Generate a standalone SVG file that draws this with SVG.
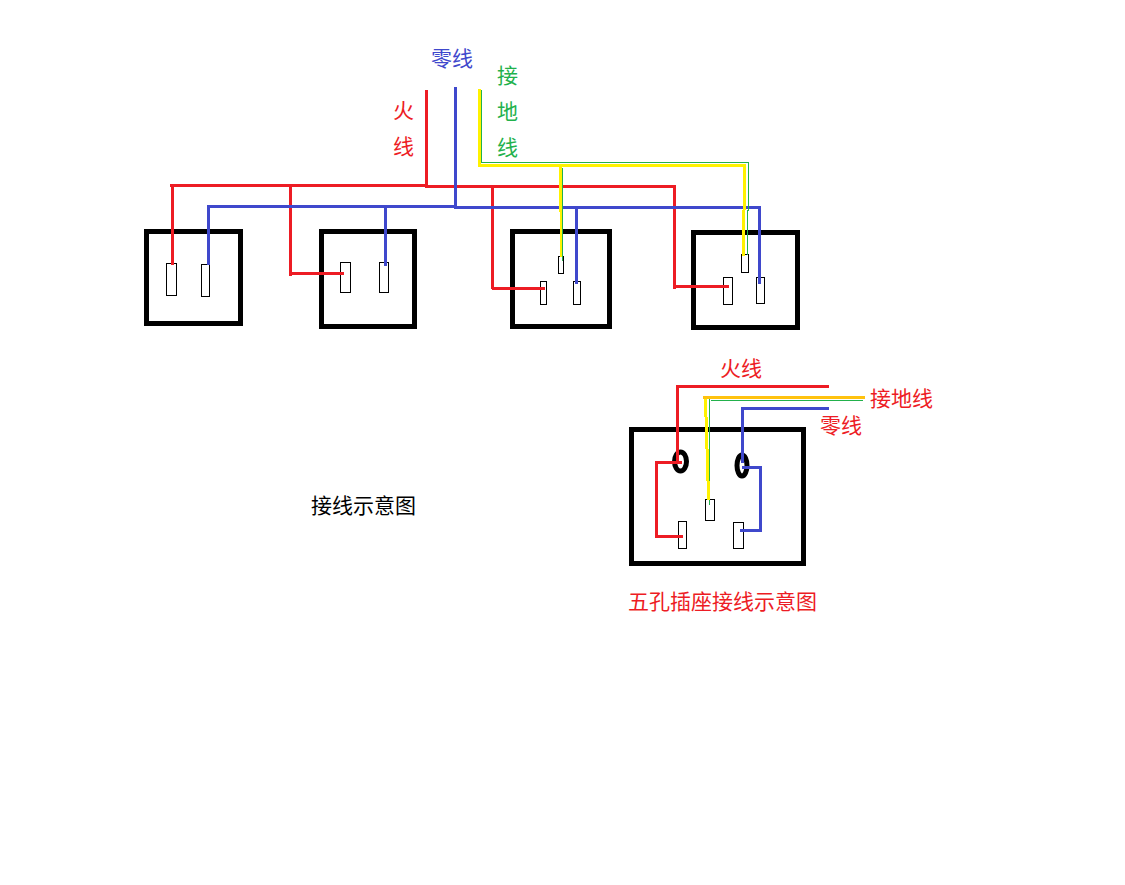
<svg xmlns="http://www.w3.org/2000/svg" width="1125" height="885" viewBox="0 0 1125 885">
<style>
text{font-family:"Noto Sans CJK SC","Noto Sans CJK TC",sans-serif;font-size:21px}
.box{fill:#fff;stroke:#000;stroke-width:5}
.slot{fill:#fff;stroke:#000;stroke-width:1}
.w{fill:none;stroke-width:3;stroke-linejoin:miter;shape-rendering:crispEdges}
.r{stroke:#ed1c24}.b{stroke:#3f48cc}.y{stroke:#fff200}.o{stroke:#ffc20e}
.g{fill:none;stroke:#22b14c;stroke-width:1;shape-rendering:crispEdges}
.ring{fill:#fff;stroke:#000;stroke-width:5}
.tr{fill:#ed1c24}.tb{fill:#3f48cc}.tg{fill:#22b14c}.tk{fill:#000}
</style>
<rect width="1125" height="885" fill="#fff"/>
<g id="socket-1"><rect class="box" x="146.5" y="231.500" width="94" height="92"/><rect class="slot" x="166.500" y="263.500" width="10" height="32"/><rect class="slot" x="201.500" y="264.500" width="8" height="32"/></g>
<g id="socket-2"><rect class="box" x="321.500" y="231.500" width="93" height="95"/><rect class="slot" x="340.500" y="262.500" width="10" height="30"/><rect class="slot" x="379.500" y="262.500" width="9" height="30"/></g>
<g id="socket-3"><rect class="box" x="512.500" y="231.500" width="97" height="95"/><rect class="slot" x="558.500" y="256.500" width="5" height="17"/><rect class="slot" x="540.500" y="281.500" width="6" height="23"/><rect class="slot" x="573.500" y="281.500" width="7" height="23"/></g>
<g id="socket-4"><rect class="box" x="693.500" y="232.500" width="104" height="95"/><rect class="slot" x="741.500" y="254.500" width="7" height="18"/><rect class="slot" x="723.500" y="277.500" width="9" height="27"/><rect class="slot" x="756.500" y="277.500" width="8" height="26"/></g>
<g id="socket-five"><rect class="box" x="631.500" y="429.500" width="172" height="134"/><ellipse class="ring" cx="680.500" cy="461.500" rx="6" ry="9.500"/><ellipse class="ring" cx="742" cy="465.500" rx="5" ry="10.500"/><rect class="slot" x="705.500" y="499.500" width="9" height="21"/><rect class="slot" x="678.500" y="521.500" width="8" height="27"/><rect class="slot" x="733.500" y="522.500" width="10" height="26"/></g>
<g id="connectors">
<path class="w r" d="M170 185.500H427M172.500 185V265M290.500 185V276M290.500 273.500H344M426.500 90V186.500H674.500V289M674 286.500H729M492.500 186V289M492 288.500H545"/>
<path class="w b" d="M455.500 87V207.500H759.500V284M208.500 265V206.500H455M385.500 206V266M576.500 207V284"/>
<path class="g" d="M481.500 90V162.500H748.500V210H747.500V255M562.500 168V261"/>
<path class="w y" d="M479.500 89V165.500H744.500V210M743.500 210V256M560.500 165V212"/>
<path class="w y" style="stroke-width:2" d="M561 212V257"/>
<path class="w r" d="M829 386.500H677.500V463M682 462.500H656.500V536.500H683"/>
<path class="g" d="M709.500 398V505M711 400.500H863"/>
<path class="w y" d="M705.500 398V417M706.500 417V449M707.500 449V481M708 481V500"/>
<path class="w o" d="M703 397.500H865"/>
<path class="w b" d="M829 408.500H742.500V463M742 467.500H760.500V530H740"/>
</g>
<g id="labels">
<text class="tb" x="431" y="66">零线</text>
<text class="tg" x="497" y="83">接</text>
<text class="tg" x="497" y="119">地</text>
<text class="tg" x="497" y="155">线</text>
<text class="tr" x="393" y="118">火</text>
<text class="tr" x="393" y="154">线</text>
<text class="tr" x="720" y="376">火线</text>
<text class="tr" x="870" y="406">接地线</text>
<text class="tr" x="820" y="433">零线</text>
<text class="tk" x="311" y="513">接线示意图</text>
<text class="tr" x="628" y="609">五孔插座接线示意图</text>
</g>
</svg>
